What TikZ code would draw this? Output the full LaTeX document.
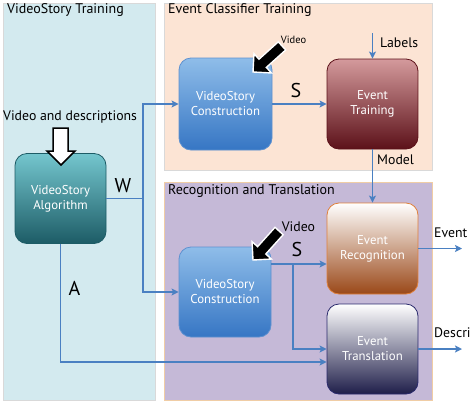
\documentclass[tikz,border=0pt]{standalone}
\usepackage{fontspec}
\setmainfont{PT Sans}
\usetikzlibrary{arrows.meta,calc}
\definecolor{pcyan}{HTML}{D3EAEF}
\definecolor{ppeach}{HTML}{FCE4D4}
\definecolor{plav}{HTML}{C5B9D7}
\definecolor{pedge}{HTML}{F0CDA5}
\definecolor{algtop}{HTML}{74C6CE}
\definecolor{algbot}{HTML}{1D5C66}
\definecolor{vctop}{HTML}{8FBDE9}
\definecolor{vcbot}{HTML}{3676C4}
\definecolor{ettop}{HTML}{D49A9C}
\definecolor{etbot}{HTML}{5C1119}
\definecolor{erbot}{HTML}{9A4818}
\definecolor{erdraw}{HTML}{E0803A}
\definecolor{etrbot}{HTML}{1F1E4A}
\definecolor{etrdraw}{HTML}{2A2A6C}
\definecolor{conncol}{HTML}{4A80C2}
\tikzset{
  panel/.style={anchor=north west, draw=black!15, line width=0.8pt, inner sep=0pt},
  ptitle/.style={anchor=west, inner sep=0pt, font=\fontsize{14}{16}\selectfont},
  box/.style={rounded corners=12pt, minimum width=91pt, minimum height=90pt, align=center,
    text=white, font=\fontsize{12.8}{15}\selectfont, line width=0.8pt, inner sep=0pt, shading=axis},
  conn/.style={draw=conncol, line width=1.5pt, -{Stealth[length=7pt,width=7pt,inset=1.5pt]}},
  wire/.style={draw=conncol, line width=1.5pt},
  big/.style={inner sep=0pt, font=\fontsize{20}{20}\selectfont},
  lbl/.style={inner sep=0pt, font=\fontsize{13.8}{15}\selectfont},
  small/.style={inner sep=0pt, font=\fontsize{10.5}{12}\selectfont},
  blackarrow/.style={fill=black, draw=white, line width=1.4pt, line join=miter},
}
\begin{document}
\begin{tikzpicture}[x=1pt,y=-1pt]
\useasboundingbox (0,0) rectangle (474,405);
\fill[white] (0,0) rectangle (474,405);
% panels
\node[panel, fill=pcyan, minimum width=152pt, minimum height=397pt] (p1) at (3,3) {};
\node[panel, fill=ppeach, minimum width=268pt, minimum height=167pt] (p2) at (164,3) {};
\node[panel, fill=plav, draw=pedge, minimum width=268pt, minimum height=218pt] (p3) at (164,182) {};
\node[ptitle] (t1) at (7,10) {VideoStory Training};
\node[ptitle] (t2) at (168,10) {Event Classifier Training};
\node[ptitle] (t3) at (168,191) {Recognition and Translation};
% boxes
\node[box, top color=algtop, bottom color=algbot, draw=algbot] (alg) at (60.5,198.5) {VideoStory\\Algorithm};
\node[box, top color=vctop, bottom color=vcbot, draw=vcbot!80, minimum width=93pt, minimum height=92pt] (vc1) at (225.5,104) {VideoStory\\Construction};
\node[box, top color=ettop, bottom color=etbot, draw=etbot] (et) at (372.5,104) {Event\\Training};
\node[box, top color=vctop, bottom color=vcbot, draw=vcbot!80, minimum width=92pt] (vc2) at (225,292) {VideoStory\\Construction};
\node[box, top color=white, bottom color=erbot, draw=erdraw, minimum height=91pt] (er) at (372.5,248.5) {Event\\Recognition};
\node[box, top color=white, bottom color=etrbot, draw=etrdraw] (etr) at (372.5,349) {Event\\Translation};
% connectors
\coordinate (wj) at (143,198.5);
\draw[wire] (alg.east) -- (wj);
\draw[conn] (wj) |- (vc1.west);
\draw[conn] (wj) |- (vc2.west);
\coordinate (aj) at (60.5,362);
\draw[conn] (alg.south) -- (aj) -- (aj -| etr.west);
\draw[conn] (vc1.east) -- (et.west);
\coordinate (labtop) at (372.5,33);
\draw[conn] (labtop) -- (et.north);
\draw[conn] (et.south) -- (er.north);
\coordinate (sj0) at (271,264);
\coordinate (sj) at (293,264);
\draw[conn] (sj0) -- (sj0 -| er.west);
\draw[conn] (sj) |- (etr.west);
\coordinate (evout) at (462,248.5);
\draw[conn] (er.east) -- (evout);
\coordinate (dout) at (462,349);
\draw[conn] (etr.east) -- (dout);
% labels
\node[big] (Wl) at (123,186) {W};
\node[big] (Al) at (74.5,288) {A};
\node[big] (S1) at (296,90) {S};
\node[big] (S2) at (297,249) {S};
\node[lbl, anchor=west] (labl) at (380,43) {Labels};
\node[lbl, anchor=west] (model) at (377,160) {Model};
\node[small] (v1) at (293.5,40) {Video};
\node[lbl] (v2) at (298.5,227) {Video};
\node[lbl, anchor=west] (evl) at (434,233) {Event};
\node[lbl, anchor=west] (dl) at (434,333) {Descri};
\node[lbl, anchor=west] (vd) at (3,117) {Video and descriptions};
% white block arrow
\draw[fill=white, draw=black, line width=1.5pt, line join=miter]
  (53,128) -- (68,128) -- (68,151) -- (75,151) -- (61,165) -- (47,151) -- (53,151) -- cycle;
% black block arrows
\begin{scope}[shift={(253,72)}, rotate=222]
\draw[blackarrow] (0,0) -- (-13,-13) -- (-13,-5.5) -- (-39,-5.5) -- (-39,5.5) -- (-13,5.5) -- (-13,13) -- cycle;
\end{scope}
\begin{scope}[shift={(253,260)}, rotate=228]
\draw[blackarrow] (0,0) -- (-13,-13) -- (-13,-5.5) -- (-39,-5.5) -- (-39,5.5) -- (-13,5.5) -- (-13,13) -- cycle;
\end{scope}
\end{tikzpicture}
\end{document}
